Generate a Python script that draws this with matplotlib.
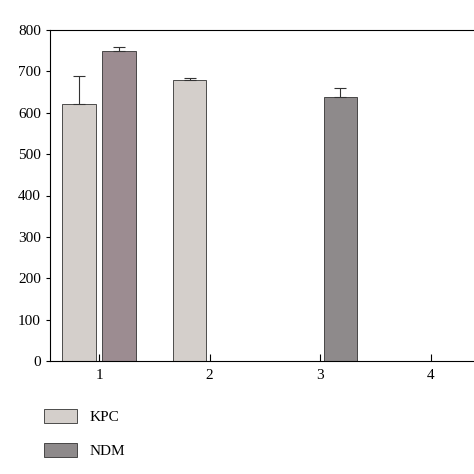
import matplotlib.pyplot as plt
import numpy as np

plt.rcParams['font.family'] = ['Liberation Serif', 'DejaVu Serif']

groups = [1, 2, 3, 4]
kpc = [620, 678, 0, 0]
kpc_err = [70, 5, 0, 0]
ndm = [750, 0, 638, 0]
ndm_err = [10, 0, 22, 0]
ndm_colors = ['#9c8c91', '#9c8c91', '#8e8a8b', '#8e8a8b']

fig = plt.figure(figsize=(4.74, 4.74), dpi=100)
ax = fig.add_axes([50 / 474, 1 - 361 / 474, 440 / 474, 331 / 474])

x = np.array(groups)
w = 0.3
off = 0.18
for i in range(len(groups)):
    if kpc[i] > 0:
        ax.bar(x[i] - off, kpc[i], w, color='#d4cfcb', edgecolor='#333333', linewidth=0.6,
               yerr=[[0], [kpc_err[i]]], capsize=4, error_kw=dict(lw=0.8, capthick=0.8, ecolor='#333333'))
    if ndm[i] > 0:
        ax.bar(x[i] + off, ndm[i], w, color=ndm_colors[i], edgecolor='#333333', linewidth=0.6,
               yerr=[[0], [ndm_err[i]]], capsize=4, error_kw=dict(lw=0.8, capthick=0.8, ecolor='#333333'))

ax.set_xlim(0.557, 4.535)
ax.set_ylim(0, 800)
ax.set_xticks(groups)
ax.set_yticks(range(0, 801, 100))
ax.tick_params(axis='x', direction='in', length=5, labelsize=11, pad=6)
ax.tick_params(axis='y', direction='out', length=3, labelsize=11)
ax.spines['right'].set_visible(False)

from matplotlib.patches import Patch
handles = [Patch(facecolor='#d4cfcb', edgecolor='#333333', linewidth=0.6, label='KPC'),
           Patch(facecolor='#8e8a8b', edgecolor='#333333', linewidth=0.6, label='NDM')]
fig.legend(handles=handles, loc='upper left', bbox_to_anchor=(30 / 474, 1 - 395 / 474),
           frameon=False, fontsize=11, handlelength=2.2, handleheight=1.1, labelspacing=1.2)

fig.savefig('out.png', dpi=100)
